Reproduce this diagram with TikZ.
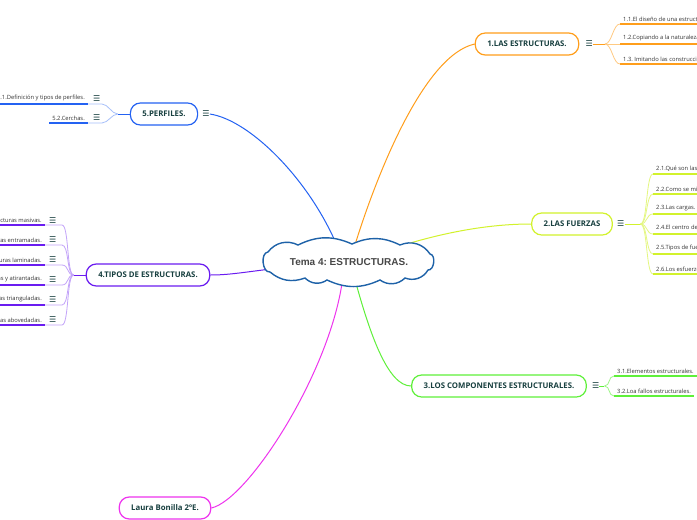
\documentclass[tikz,border=0pt]{standalone}
\usepackage{fontspec}
\setmainfont{Open Sans}
\newfontfamily\arialfont{Liberation Sans}
\newfontfamily\symfont{DejaVu Sans}
\usetikzlibrary{positioning, calc, backgrounds}
\frenchspacing

\definecolor{textgreen}{HTML}{173F3F}
\definecolor{cloudblue}{HTML}{1E62A8}
\definecolor{orangeb}{HTML}{FF9E1B}
\definecolor{limeb}{HTML}{D2F22C}
\definecolor{greenb}{HTML}{5FF03A}
\definecolor{purpleb}{HTML}{6A1CF0}
\definecolor{blueb}{HTML}{2462F2}
\definecolor{magentab}{HTML}{EE33EE}

\begin{document}
\begin{tikzpicture}[x=1pt, y=-1pt,
  topic/.style={draw, fill=white, line width=1.2pt, rounded corners=10pt,
                minimum height=22pt, inner xsep=12pt, text=textgreen,
                font=\bfseries\fontsize{7.8}{9}\selectfont},
  sub/.style={inner xsep=3pt, inner ysep=2.5pt, text=black!80,
              font=\fontsize{5.8}{7}\selectfont},
  menu/.style={inner sep=0pt, text=textgreen,
               font=\symfont\fontsize{8}{8}\selectfont},
  cloudline/.style={draw=cloudblue, fill=white, line width=1.4pt},
  link/.style={line width=1pt},
  twig/.style={line width=0.8pt},
  uline/.style={line width=1.6pt}]

  \useasboundingbox (0,0) rectangle (697,520);
  \clip (0,0) rectangle (697,520);

  % central idea
  \node[text=black!72, font=\arialfont\bfseries\fontsize{10}{12}\selectfont]
        (tema) at (349,262) {Tema 4: ESTRUCTURAS.};

  % topics
  \node[topic, draw=orangeb] (est) at (527,44) {1.LAS ESTRUCTURAS.};
  \node[menu, right=6pt of est] (estm) {☰};
  \node[topic, draw=limeb] (fue) at (572,224) {2.LAS FUERZAS};
  \node[menu, right=4pt of fue] (fuem) {☰};
  \node[topic, draw=greenb] (com) at (499,386) {3.LOS COMPONENTES ESTRUCTURALES.};
  \node[menu, right=5pt of com] (comm) {☰};
  \node[topic, draw=purpleb] (tip) at (148,275) {4.TIPOS DE ESTRUCTURAS.};
  \node[topic, draw=blueb] (per) at (164,114) {5.PERFILES.};
  \node[menu, right=4pt of per] (perm) {☰};
  \node[topic, draw=magentab] (lau) at (165,508) {Laura Bonilla 2ºE.};

  \begin{scope}[on background layer]
    \fill[white] (0,0) rectangle (697,520);
    \draw[link, orangeb] ($(tema.center)+(5,-14)$) .. controls (378,170) and (425,55) .. (est.west);
    \draw[link, blueb] ($(tema.center)+(-11,-14)$) .. controls (310,180) and (250,120) .. (perm.east);
    \draw[link, limeb] ($(tema.center)+(45,-14)$) .. controls (450,230) and (495,224) .. (fue.west);
    \draw[link, greenb] ($(tema.center)+(5,14)$) .. controls (370,335) and (388,386) .. (com.west);
    \draw[link, magentab] ($(tema.center)+(-6,14)$) .. controls (332,370) and (248,500) .. (lau.east);
    \draw[link, purpleb] ($(tema.center)+(-70,6)$) .. controls (245,272) and (230,275) .. (tip.east);
    % cloud
    \draw[cloudline, shift={(tema.center)}]
      (-81,-10) to[bend left=40] (-51,-17) to[bend left=25] (3,-18)
      to[bend left=25] (51,-17) to[bend left=40] (81,-8)
      to[bend left=90] (79,8) to[bend left=40] (56,16)
      to[bend left=40] (31,18) to[bend left=25] (-22,18)
      to[bend left=40] (-44,16) to[bend left=30] (-79,10)
      to[bend left=90] (-81,-10) -- cycle;
  \end{scope}

  % 1. sub topics
  \coordinate (estj) at ($(estm.east)+(12,0)$);
  \draw[twig, orangeb] (estm.east) -- (estj);
  \foreach \i/\t in {1/{1.1.El diseño de una estructura.},
                     2/{1.2.Copiando a la naturaleza.},
                     3/{1.3. Imitando las construcciones.}} {
    \node[sub, anchor=south west] (est\i) at (620,{4+20*\i}) {\t};
    \draw[uline, orangeb] (est\i.south west) -- (est\i.south east);
    \draw[twig, orangeb!55] (estj) .. controls +(7,0) and +(-7,0) .. (est\i.south west);
  }

  % 2. sub topics
  \coordinate (fuej) at ($(fuem.east)+(16,0)$);
  \draw[twig, limeb] (fuem.east) -- (fuej);
  \foreach \i/\t in {1/{2.1.Qué son las fuerzas.},
                     2/{2.2.Como se miden las fuerzas.},
                     3/{2.3.Las cargas.},
                     4/{2.4.El centro de gravedad.},
                     5/{2.5.Tipos de fuerzas.},
                     6/{2.6.Los esfuerzos.}} {
    \node[sub, anchor=south west] (fue\i) at (653,{154+20*\i}) {\t};
    \draw[uline, limeb] (fue\i.south west) -- (fue\i.south east);
    \draw[twig, limeb!60] (fuej) .. controls +(7,0) and +(-7,0) .. (fue\i.south west);
  }

  % 3. sub topics
  \coordinate (comj) at ($(comm.east)+(5,0)$);
  \draw[twig, greenb] (comm.east) -- (comj);
  \foreach \i/\t in {1/{3.1.Elementos estructurales.},
                     2/{3.2.Loa fallos estructurales.}} {
    \node[sub, anchor=south west] (com\i) at (614,{356+20*\i}) {\t};
    \draw[uline, greenb] (com\i.south west) -- (com\i.south east);
    \draw[twig, greenb!60] (comj) .. controls +(6,0) and +(-6,0) .. (com\i.south west);
  }

  % 4. sub topics
  \coordinate (tipj) at ($(tip.west)+(-12,0)$);
  \draw[twig, purpleb] (tip.west) -- (tipj);
  \foreach \i/\t in {1/{4.1.Estructuras masivas.},
                     2/{4.2.Estructuras entramadas.},
                     3/{4.3.Estructuras laminadas.},
                     4/{4.4.Estructuras colgadas y atirantadas.},
                     5/{4.5.Estructuras trianguladas.},
                     6/{4.6.Estructuras abovedadas.}} {
    \node[sub, anchor=south east] (tip\i) at (45,{205+20*\i}) {\t};
    \node[menu, right=4pt of tip\i] (tipm\i) {☰};
    \draw[uline, purpleb] (tip\i.south west) -- (tip\i.south east);
    \draw[twig, purpleb!40] (tip\i.south east) -- ++(17,0)
      .. controls +(7,0) and +(-7,0) .. (tipj);
  }

  % 5. sub topics
  \coordinate (perj) at ($(per.west)+(-12,0)$);
  \draw[twig, blueb] (per.west) -- (perj);
  \foreach \i/\y/\t in {1/104/{5.1.Definición y tipos de perfiles.},
                        2/123/{5.2.Cerchas.}} {
    \node[sub, anchor=south east] (per\i) at (88,\y) {\t};
    \node[menu, right=5pt of per\i] (perm\i) {☰};
    \draw[uline, blueb] (per\i.south west) -- (per\i.south east);
    \draw[twig, blueb!40] (per\i.south east) -- ++(14,0)
      .. controls +(6,0) and +(-6,0) .. (perj);
  }
\end{tikzpicture}
\end{document}
